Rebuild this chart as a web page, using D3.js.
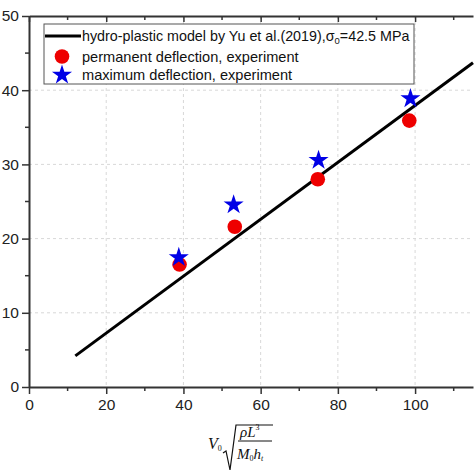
<!DOCTYPE html>
<html lang="en">
<head>
  <meta charset="UTF-8">
  <title>Deflection vs damage number</title>
  <script src="https://d3js.org/d3.v7.min.js"></script>
  <style>
    body { margin: 0; background: #fff; }
    svg { display: block; font-family: "Liberation Sans", Arial, sans-serif; }
  </style>
</head>
<body>
  <svg id="chart" width="474" height="474"></svg>
  <script>
    // data
    const modelX = [12, 115];
    const modelY = [4.2, 43.7];
    const permX = [39, 53.3, 74.8, 98.5];
    const permY = [16.5, 21.6, 28.0, 35.9];
    const maxX = [38.8, 53, 75, 98.8];
    const maxY = [17.6, 24.7, 30.7, 39.0];
    const xTicks = [0, 20, 40, 60, 80, 100];
    const yTicks = [0, 10, 20, 30, 40, 50];
    const legendLabels = ["hydro-plastic model by Yu et al.(2019),", "permanent deflection, experiment", "maximum deflection, experiment"];

    const svg = d3.select("#chart");
    const m = { left: 29, top: 16, right: 473, bottom: 387 };

    const x = d3.scaleLinear().domain([0, 115]).range([m.left, m.right]);
    const y = d3.scaleLinear().domain([0, 50]).range([m.bottom, m.top]);

    // grid
    const grid = svg.append("g");
    grid.selectAll("line.gx").data(xTicks.slice(1)).enter().append("line")
      .attr("x1", d => x(d)).attr("x2", d => x(d))
      .attr("y1", m.top).attr("y2", m.bottom)
      .attr("stroke", "#d8d8d8").attr("stroke-dasharray", "3,3");
    grid.selectAll("line.gy").data(yTicks.slice(1, -1)).enter().append("line")
      .attr("y1", d => y(d)).attr("y2", d => y(d))
      .attr("x1", m.left).attr("x2", m.right)
      .attr("stroke", "#d8d8d8").attr("stroke-dasharray", "3,3");

    // axes
    const minorX = d3.range(10, 115, 20);
    const minorY = d3.range(5, 50, 10);
    const axisColor = "#333";

    const gBottom = svg.append("g").attr("transform", `translate(0,${m.bottom})`)
      .call(d3.axisBottom(x).tickValues(xTicks).tickSize(7).tickSizeOuter(0).tickPadding(5));
    gBottom.append("g").selectAll("line").data(minorX).enter().append("line")
      .attr("x1", d => x(d)).attr("x2", d => x(d)).attr("y1", 0).attr("y2", 4)
      .attr("stroke", axisColor);

    const gTop = svg.append("g").attr("transform", `translate(0,${m.top})`)
      .call(d3.axisTop(x).tickValues(xTicks).tickSize(-6).tickSizeOuter(0).tickFormat(""));
    gTop.append("g").selectAll("line").data(minorX).enter().append("line")
      .attr("x1", d => x(d)).attr("x2", d => x(d)).attr("y1", 0).attr("y2", 4)
      .attr("stroke", axisColor);

    const gLeft = svg.append("g").attr("transform", `translate(${m.left},0)`)
      .call(d3.axisLeft(y).tickValues(yTicks).tickSize(7).tickSizeOuter(0).tickPadding(3));
    gLeft.append("g").selectAll("line").data(minorY).enter().append("line")
      .attr("y1", d => y(d)).attr("y2", d => y(d)).attr("x1", 0).attr("x2", -4)
      .attr("stroke", axisColor);

    [gBottom, gTop, gLeft].forEach(g => {
      g.selectAll(".domain").attr("stroke", axisColor).attr("stroke-width", 2);
      g.selectAll(".tick line").attr("stroke", axisColor);
      g.selectAll("line").attr("stroke-width", 1.5);
      g.selectAll("text").attr("font-size", 15.5).attr("fill", "#222")
        .attr("font-family", "'Liberation Sans', Arial, sans-serif");
    });

    // model line
    svg.append("line")
      .attr("x1", x(modelX[0])).attr("y1", y(modelY[0]))
      .attr("x2", x(modelX[1])).attr("y2", y(modelY[1]))
      .attr("stroke", "#000").attr("stroke-width", 3);

    // permanent deflection
    const perm = permX.map((v, i) => ({ x: v, y: permY[i] }));
    svg.selectAll("circle.perm").data(perm).enter().append("circle")
      .attr("cx", d => x(d.x)).attr("cy", d => y(d.y)).attr("r", 7.3)
      .attr("fill", "#ee0000");

    // maximum deflection
    const star = d3.symbol().type(d3.symbolStar).size(125);
    const maxd = maxX.map((v, i) => ({ x: v, y: maxY[i] }));
    svg.selectAll("path.maxd").data(maxd).enter().append("path")
      .attr("d", star)
      .attr("transform", d => `translate(${x(d.x)},${y(d.y) + 1})`)
      .attr("fill", "#0000e6");

    // legend
    const lg = svg.append("g");
    lg.append("rect").attr("x", 44).attr("y", 24).attr("width", 370).attr("height", 60)
      .attr("fill", "#fff").attr("stroke", "#555").attr("stroke-width", 1);
    lg.append("line").attr("x1", 45).attr("x2", 81).attr("y1", 36).attr("y2", 36)
      .attr("stroke", "#000").attr("stroke-width", 3);
    lg.append("circle").attr("cx", 62).attr("cy", 56.5).attr("r", 7.3).attr("fill", "#ee0000");
    lg.append("path").attr("d", star).attr("transform", "translate(62,75)").attr("fill", "#0000e6");
    const t0 = lg.append("text").attr("x", 82).attr("y", 41).attr("font-size", 14.3).attr("fill", "#111");
    t0.append("tspan").text(legendLabels[0]);
    t0.append("tspan").text("σ");
    t0.append("tspan").attr("font-size", 9.5).attr("dy", 3).text("0");
    t0.append("tspan").attr("dy", -3).text("=42.5 MPa");
    lg.selectAll("text.row").data(legendLabels.slice(1)).enter().append("text")
      .attr("x", 82).attr("y", (d, i) => 61.5 + i * 18.5)
      .attr("font-size", 14.6).attr("fill", "#111").text(d => d);

    // x axis label: V0 sqrt(rho L^3 / (M0 ht))
    const f = svg.append("g").attr("font-family", "'Liberation Serif', 'Times New Roman', serif")
      .attr("font-style", "italic").attr("fill", "#111");
    const v = f.append("text").attr("x", 208).attr("y", 449).attr("font-size", 16);
    v.append("tspan").text("V");
    v.append("tspan").attr("font-size", 8).attr("font-style", "normal").attr("dy", 2).text("0");
    f.append("path")
      .attr("d", "M223,453 L226,451 L230,470 L236,425 L273,425")
      .attr("fill", "none").attr("stroke", "#111").attr("stroke-width", 1.2);
    const num = f.append("text").attr("x", 240).attr("y", 437).attr("font-size", 15);
    num.append("tspan").text("ρL");
    num.append("tspan").attr("font-size", 8).attr("font-style", "normal").attr("dy", -7).text("3");
    f.append("line").attr("x1", 238).attr("x2", 272).attr("y1", 441).attr("y2", 441)
      .attr("stroke", "#111").attr("stroke-width", 1);
    const den = f.append("text").attr("x", 237).attr("y", 459).attr("font-size", 15);
    den.append("tspan").text("M");
    den.append("tspan").attr("font-size", 8).attr("font-style", "normal").attr("dy", 2).text("0");
    den.append("tspan").attr("dy", -2).text("h");
    den.append("tspan").attr("font-size", 8).attr("dy", 2).text("t");
  </script>
</body>
</html>
